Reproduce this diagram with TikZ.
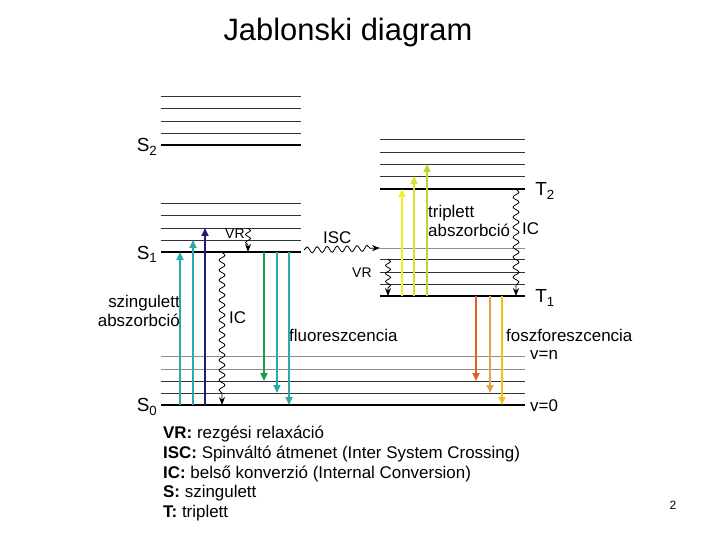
\documentclass[tikz,border=0pt]{standalone}
\usepackage{fontspec}
\setmainfont{Liberation Sans}
\usetikzlibrary{decorations.pathmorphing,arrows.meta}
\begin{document}
\begin{tikzpicture}[x=1bp,y=-1bp,
  thin lvl/.style={line width=0.6bp,black!80},
  gray lvl/.style={line width=0.6bp,black!45},
  thick lvl/.style={line width=1.6bp,black},
  lab/.style={font=\fontsize{17}{19}\selectfont,inner sep=0pt},
  big/.style={font=\fontsize{19}{21}\selectfont,inner sep=0pt},
  small/.style={font=\fontsize{14}{16}\selectfont,inner sep=0pt},
  rad/.style={line width=1.8bp,-{Triangle[length=8bp,width=7bp]}},
  wav/.style={line width=0.8bp,decorate,decoration={snake,segment length=10bp,amplitude=3bp,post length=7bp},-{Stealth[length=8bp,width=6bp]}}]
\useasboundingbox (0,0) rectangle (720,540);
\node[font=\fontsize{31}{34}\selectfont] (title) at (348,33) {Jablonski diagram};
% S2
\foreach \y in {96,108,121,133} \draw[thin lvl] (161,\y) -- (301,\y);
\draw[thick lvl] (161,145) -- (301,145);
% S1
\foreach \y in {203,215,228,240} \draw[thin lvl] (161,\y) -- (301,\y);
\draw[thick lvl] (161,252) -- (301,252);
% S0
\foreach \y in {356,369} \draw[gray lvl] (161,\y) -- (525,\y);
\foreach \y in {381,393} \draw[thin lvl] (161,\y) -- (525,\y);
\draw[thick lvl] (161,405) -- (525,405);
% T2
\foreach \y in {139,152,164,176} \draw[thin lvl] (380,\y) -- (525,\y);
\draw[thick lvl] (380,189) -- (525,189);
% T1
\draw[gray lvl] (380,248) -- (525,248);
\foreach \y in {259,272,284} \draw[thin lvl] (380,\y) -- (525,\y);
\draw[thick lvl] (380,296) -- (525,296);
% labels
\node[big] (S2) at (147,147) {S\textsubscript{2}};
\node[big] (S1) at (147,254) {S\textsubscript{1}};
\node[big] (S0) at (147,407) {S\textsubscript{0}};
\node[big] (T2) at (545,191) {T\textsubscript{2}};
\node[big] (T1) at (545,298) {T\textsubscript{1}};
\node[lab,anchor=east,align=right] (sab) at (180,311) {szingulett\\abszorbció};
\node[lab,anchor=west] (ic1) at (229,318) {IC};
\node[small,anchor=west] (vr1) at (225,234) {VR};
\node[lab,anchor=west] (isc) at (323,238) {ISC};
\node[small,anchor=west] (vr2) at (352,273) {VR};
\node[lab,anchor=west] (fl) at (289,335) {fluoreszcencia};
\node[lab,anchor=west,align=left] (tab) at (428,221) {triplett\\abszorbció};
\node[lab,anchor=west] (ic2) at (522,229) {IC};
\node[lab,anchor=west] (ph) at (506,335) {foszforeszcencia};
\node[lab,anchor=west] (vn) at (530,355) {v=n};
\node[lab,anchor=west] (v0) at (530,406) {v=0};
% coordinates
\foreach \n/\x/\y in {a1/180/405,a1e/180/252,a2/193/405,a2e/193/240,a3/205/405,a3e/205/228,
  i1/222/252,i1e/222/405,r1/248/228,r1e/248/252,
  f1/264/252,f1e/264/381,f2/277/252,f2e/277/393,f3/289/252,f3e/289/405,
  c1/304/250,c1e/380/248,r2/388/259,r2e/388/296,
  t1/402/296,t1e/402/189,t2/414/296,t2e/414/176,t3/427/296,t3e/427/164,
  i2/516/189,i2e/516/296,p1/476/296,p1e/476/381,p2/490/296,p2e/490/393,p3/502/296,p3e/502/405}
  \coordinate (\n) at (\x,\y);
\draw[rad,color={rgb,255:red,40;green,170;blue,170}] (a1) -- (a1e);
\draw[rad,color={rgb,255:red,40;green,170;blue,170}] (a2) -- (a2e);
\draw[rad,color={rgb,255:red,30;green,30;blue,110}] (a3) -- (a3e);
\draw[wav] (i1) -- (i1e);
\draw[wav,decoration={segment length=8bp,amplitude=2.5bp,post length=6bp}] (r1) -- (r1e);
\draw[rad,color={rgb,255:red,20;green,160;blue,70}] (f1) -- (f1e);
\draw[rad,color={rgb,255:red,40;green,170;blue,170}] (f2) -- (f2e);
\draw[rad,color={rgb,255:red,40;green,170;blue,170}] (f3) -- (f3e);
\draw[wav] (c1) -- (c1e);
\draw[wav,decoration={segment length=8bp,amplitude=2.5bp,post length=6bp}] (r2) -- (r2e);
\draw[rad,color={rgb,255:red,240;green,240;blue,40}] (t1) -- (t1e);
\draw[rad,color={rgb,255:red,215;green,225;blue,40}] (t2) -- (t2e);
\draw[rad,color={rgb,255:red,185;green,215;blue,50}] (t3) -- (t3e);
\draw[wav] (i2) -- (i2e);
\draw[rad,color={rgb,255:red,225;green,95;blue,35}] (p1) -- (p1e);
\draw[rad,color={rgb,255:red,230;green,160;blue,80}] (p2) -- (p2e);
\draw[rad,color={rgb,255:red,240;green,195;blue,20}] (p3) -- (p3e);
% legend
\node[anchor=north west,align=left,inner sep=0pt,font=\fontsize{17}{19.8}\selectfont] (leg) at (163,426)
 {\textbf{VR:} rezgési relaxáció\\ \textbf{ISC:} Spinváltó átmenet (Inter System Crossing)\\
  \textbf{IC:} belső konverzió (Internal Conversion)\\ \textbf{S:} szingulett\\ \textbf{T:} triplett};
\node[font=\fontsize{12}{14}\selectfont] (pg) at (673,505) {2};
\end{tikzpicture}
\end{document}
